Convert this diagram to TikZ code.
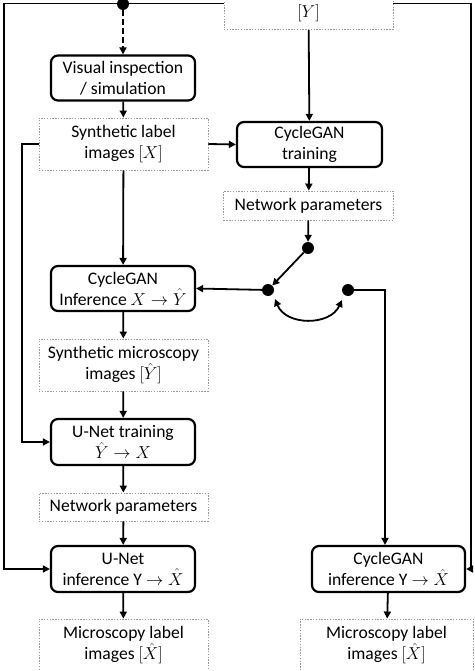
\documentclass[tikz,border=0pt]{standalone}
\usepackage{fontspec}
\setmainfont{Carlito}
\usetikzlibrary{arrows.meta,calc}
\begin{document}
\begin{tikzpicture}[x=1pt,y=-1pt,
  every node/.style={font=\fontsize{17.6}{21}\selectfont},
  proc/.style={draw, line width=2.2pt, rounded corners=7pt, minimum width=144pt, minimum height=45pt, inner sep=0pt, align=center},
  data/.style={draw=gray!80, line width=0.9pt, dash pattern=on 1.4pt off 1.4pt, minimum width=169pt, minimum height=52pt, inner sep=0pt, align=center},
  dotn/.style={circle, fill=black, minimum size=12pt, inner sep=0pt},
  conn/.style={line width=1.8pt},
  arr/.style={conn, -{Triangle[length=7pt,width=7pt]}},
]
\useasboundingbox (0,0) rectangle (474,671);
\clip (0,0) rectangle (474,671);
% nodes
\node[data] (top) at (308.5,3.5) {Microscopy images\\$[Y]$};
\node[proc] (vis) at (123,78) {Visual inspection\\/ simulation};
\node[data] (X) at (123.5,144) {Synthetic label\\images $[X]$};
\node[proc, minimum width=145pt] (cgt) at (309.5,144.5) {CycleGAN\\training};
\node[data, minimum width=170pt, minimum height=29pt] (np1) at (308.5,205.5) {Network parameters};
\node[proc] (cgi) at (123,288.5) {CycleGAN\\Inference $X \rightarrow \hat{Y}$};
\node[data] (Yh) at (123.5,365) {Synthetic microscopy\\images $[\hat{Y}]$};
\node[proc, minimum height=46pt] (unt) at (123,442) {U-Net training\\$\hat{Y} \rightarrow X$};
\node[data, minimum height=28pt] (np2) at (123.5,507) {Network parameters};
\node[proc, minimum height=46pt] (uni) at (123,569) {U-Net\\inference Y $\rightarrow \hat{X}$};
\node[data] (lab1) at (123.5,645) {Microscopy label\\images $[\hat{X}]$};
\node[proc, minimum width=153pt, minimum height=46pt] (cgi2) at (388.5,569) {CycleGAN\\inference Y $\rightarrow \hat{X}$};
\node[data, minimum width=173pt] (lab2) at (386.5,645) {Microscopy label\\images $[\hat{X}]$};
% switch dots
\node[dotn] (d0) at (123,4) {};
\node[dotn] (s0) at (308,248) {};
\node[dotn] (s1) at (268,290) {};
\node[dotn] (s2) at (348,290) {};
% helper coordinates
\coordinate (tl) at (4,3.5);
\coordinate (tr) at (471,3.5);
\coordinate (xl) at (22,144);
\coordinate (c2) at (385,290);
\coordinate (ca) at (275,299);
\coordinate (cb) at (342,300);
% connectors
\draw[arr] (top.west) -- (tl) |- (uni.west);
\draw[arr] (top.east) -- (tr) |- (cgi2.east);
\draw[arr, dash pattern=on 6pt off 3pt] (d0) -- (vis);
\draw[arr] (vis) -- (X);
\draw[arr] (X.east) -- (cgt.west);
\draw[arr] (top) -- (cgt);
\draw[arr] (cgt) -- (np1);
\draw[arr] (np1) -- (s0);
\draw[arr] (s0) -- (s1);
\draw[arr] (s1) -- (cgi.east);
\draw[arr] (X) -- (cgi);
\draw[arr] (cgi) -- (Yh);
\draw[arr] (Yh) -- (unt);
\draw[arr] (X.west) -- (xl) |- (unt.west);
\draw[arr] (unt) -- (np2);
\draw[arr] (np2) -- (uni);
\draw[arr] (uni) -- (lab1);
\draw[arr] (s2) -- (c2) -- (c2 |- cgi2.north);
\draw[arr] (cgi2) -- (lab2);
\draw[conn, {Triangle[length=7pt,width=7pt]}-{Triangle[length=7pt,width=7pt]}] (ca) .. controls (286,326) and (330,326) .. (cb);
\end{tikzpicture}
\end{document}
